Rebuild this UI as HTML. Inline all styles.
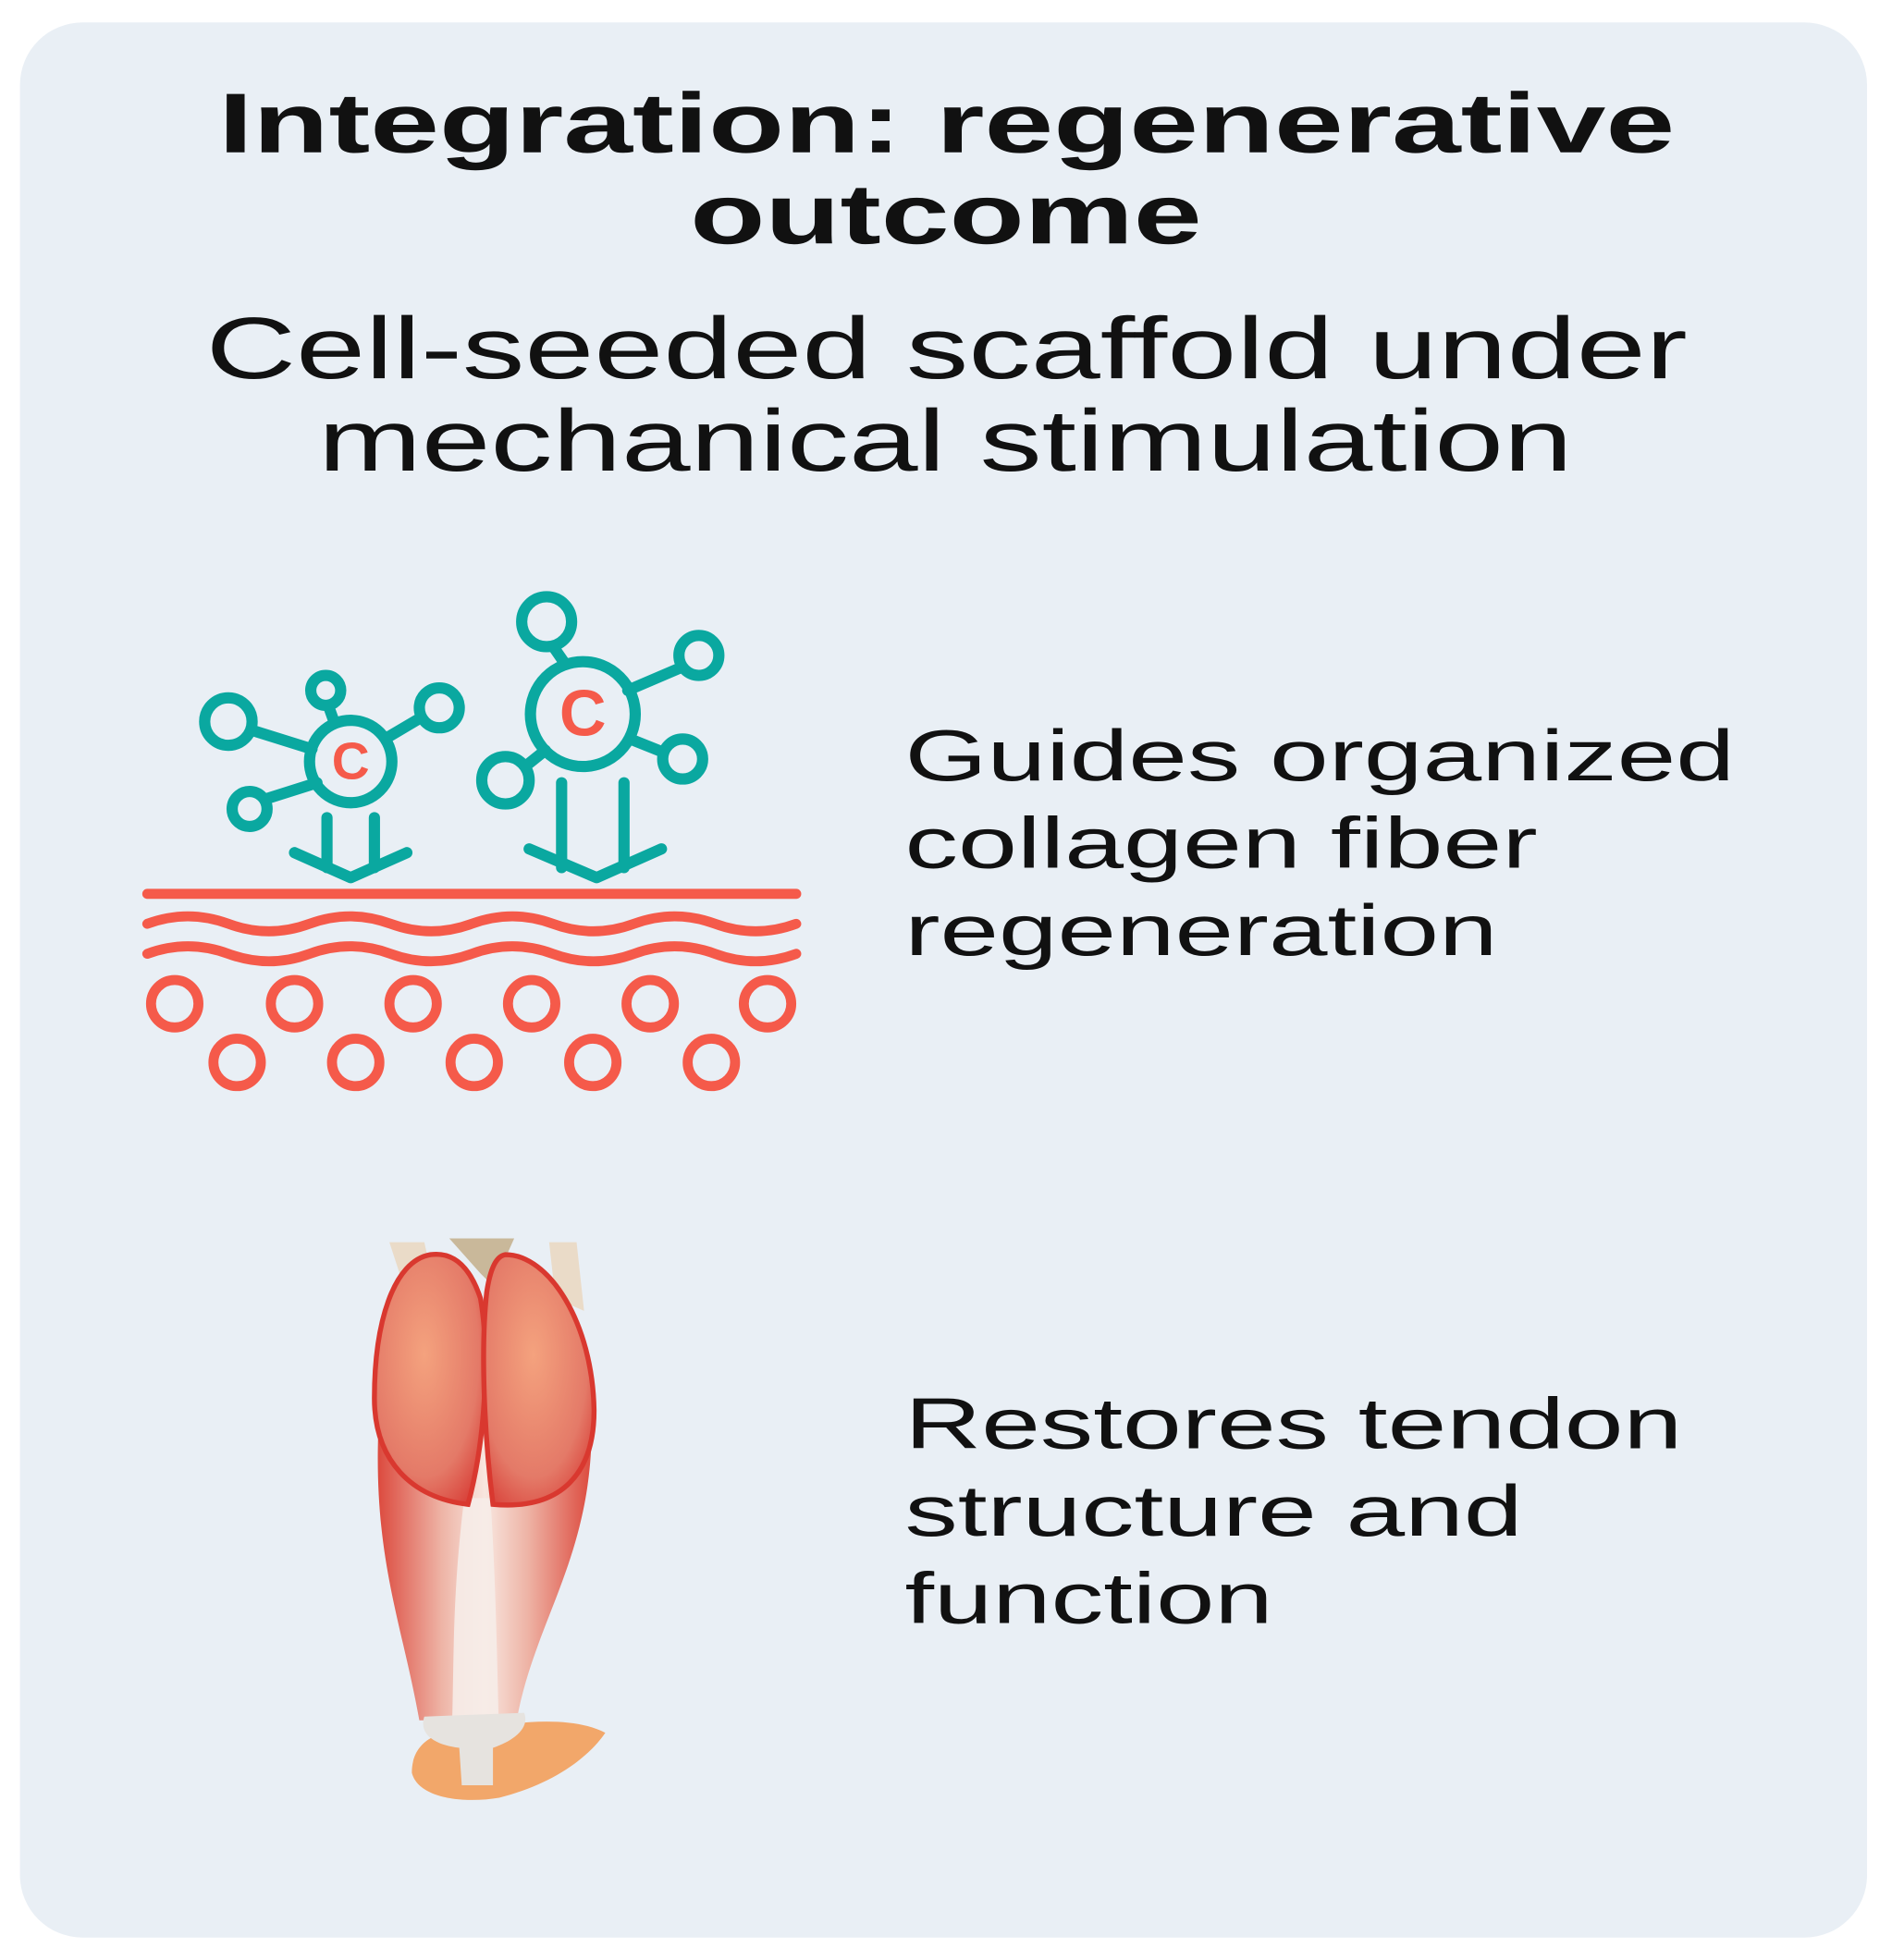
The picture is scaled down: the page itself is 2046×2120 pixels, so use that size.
<!DOCTYPE html>
<html><head><style>html,body{margin:0;padding:0;background:#fff;}svg{display:block}</style></head>
<body>
<svg width="2046" height="2120" viewBox="0 0 1516 1570" preserveAspectRatio="none" xmlns="http://www.w3.org/2000/svg">
<defs>
<radialGradient id="lobe" cx="0.45" cy="0.4" r="0.7"><stop offset="0" stop-color="#f4a27e"/><stop offset="0.7" stop-color="#e47a68"/><stop offset="1" stop-color="#d9423a"/></radialGradient>
<linearGradient id="calf" x1="0" x2="1"><stop offset="0" stop-color="#dc4a3e"/><stop offset="0.3" stop-color="#eeb4a6"/><stop offset="0.5" stop-color="#f8e6df"/><stop offset="0.7" stop-color="#eeb4a6"/><stop offset="1" stop-color="#dc4a3e"/></linearGradient>
</defs>
<rect x="0" y="0" width="1516" height="1570" fill="#fff"/>
<rect x="16" y="18" width="1480" height="1534" rx="50" fill="#e9eff5"/>
<g font-family="Liberation Sans, Arial, sans-serif" fill="#111">
<text x="175" y="122" font-size="68" font-weight="bold" textLength="1167" lengthAdjust="spacingAndGlyphs">Integration: regenerative</text>
<text x="553" y="195" font-size="68" font-weight="bold" textLength="410" lengthAdjust="spacingAndGlyphs">outcome</text>
<text x="165" y="303" font-size="70" textLength="1187" lengthAdjust="spacingAndGlyphs">Cell-seeded scaffold under</text>
<text x="255" y="377" font-size="70" textLength="1005" lengthAdjust="spacingAndGlyphs">mechanical stimulation</text>
<text x="725" y="625" font-size="58" textLength="665" lengthAdjust="spacingAndGlyphs">Guides organized</text>
<text x="725" y="695" font-size="58" textLength="507" lengthAdjust="spacingAndGlyphs">collagen fiber</text>
<text x="725" y="765" font-size="58" textLength="475" lengthAdjust="spacingAndGlyphs">regeneration</text>
<text x="725" y="1160" font-size="58" textLength="623" lengthAdjust="spacingAndGlyphs">Restores tendon</text>
<text x="725" y="1230" font-size="58" textLength="495" lengthAdjust="spacingAndGlyphs">structure and</text>
<text x="725" y="1300" font-size="58" textLength="295" lengthAdjust="spacingAndGlyphs">function</text>
</g>
<g fill="none" stroke="#f55a4a" stroke-width="8" stroke-linecap="round">
<line x1="118" y1="716" x2="638" y2="716"/>
<path d="M118 740 q32.5 -12 65 0 t65 0 t65 0 t65 0 t65 0 t65 0 t65 0 t65 0"/>
<path d="M118 764 q32.5 -12 65 0 t65 0 t65 0 t65 0 t65 0 t65 0 t65 0 t65 0"/>
<circle cx="140" cy="804" r="19"/><circle cx="236" cy="804" r="19"/><circle cx="331" cy="804" r="19"/><circle cx="426" cy="804" r="19"/><circle cx="521" cy="804" r="19"/><circle cx="615" cy="804" r="19"/>
<circle cx="190" cy="851" r="19"/><circle cx="285" cy="851" r="19"/><circle cx="380" cy="851" r="19"/><circle cx="475" cy="851" r="19"/><circle cx="570" cy="851" r="19"/>
</g>
<g fill="none" stroke="#0aa8a0" stroke-width="9" stroke-linecap="round" stroke-linejoin="round">
<circle cx="281" cy="610" r="33"/>
<circle cx="183" cy="578" r="19"/><circle cx="261" cy="553" r="12"/><circle cx="352" cy="567" r="16"/><circle cx="200" cy="648" r="14"/>
<line x1="202" y1="585" x2="250" y2="600"/><line x1="263" y1="565" x2="268" y2="579"/><line x1="337" y1="575" x2="310" y2="591"/><line x1="213" y1="640" x2="254" y2="627"/>
<line x1="262" y1="655" x2="262" y2="695"/><line x1="300" y1="655" x2="300" y2="695"/>
<polyline points="236,683 281,703 326,683"/>
<circle cx="467" cy="572" r="42"/>
<circle cx="438" cy="498" r="20"/><circle cx="560" cy="525" r="16"/><circle cx="405" cy="625" r="19"/><circle cx="547" cy="608" r="16"/>
<line x1="444" y1="519" x2="453" y2="532"/><line x1="545" y1="535" x2="503" y2="553"/><line x1="422" y1="613" x2="437" y2="601"/><line x1="530" y1="602" x2="505" y2="592"/>
<line x1="450" y1="627" x2="450" y2="695"/><line x1="500" y1="627" x2="500" y2="695"/>
<polyline points="424,680 478,703 530,680"/>
</g>
<g fill="#f55a4a" font-family="Liberation Sans, Arial, sans-serif" font-weight="bold">
<text x="281" y="624" font-size="42" text-anchor="middle">C</text>
<text x="467" y="589" font-size="52" text-anchor="middle">C</text>
</g>
<g>
<path d="M312 995 L340 995 L350 1040 L330 1050 Z" fill="#eadbc8"/>
<path d="M440 995 L462 995 L468 1050 L445 1040 Z" fill="#eadbc8"/>
<path d="M360 992 L412 992 L395 1030 L385 1020 Z" fill="#c9b89a"/>
<path d="M303 1150 C300 1250 322 1300 336 1378 L414 1378 C428 1300 472 1250 474 1150 Z" fill="url(#calf)"/>
<path d="M372 1200 C362 1280 364 1330 362 1390 L400 1390 C398 1330 398 1280 393 1200 Z" fill="#f6ece8" opacity="0.9"/>
<path d="M345 1005 C315 1010 300 1060 300 1120 C300 1170 330 1200 375 1205 C390 1150 392 1080 385 1040 C375 1010 360 1003 345 1005 Z" fill="url(#lobe)" stroke="#d9382f" stroke-width="4"/>
<path d="M405 1005 C440 1005 475 1060 476 1130 C476 1180 450 1210 395 1205 C388 1150 385 1080 390 1035 C393 1015 398 1006 405 1005 Z" fill="url(#lobe)" stroke="#d9382f" stroke-width="4"/>
<path d="M330 1420 C330 1395 350 1385 380 1385 C420 1378 460 1375 485 1388 C470 1410 440 1430 400 1440 C370 1445 335 1440 330 1420 Z" fill="#f2a76a"/>
<path d="M340 1375 L420 1372 C425 1385 410 1395 395 1400 L395 1430 L370 1430 L368 1400 C350 1398 335 1390 340 1375 Z" fill="#e6e3df"/>
</g>
</svg>
</body></html>
